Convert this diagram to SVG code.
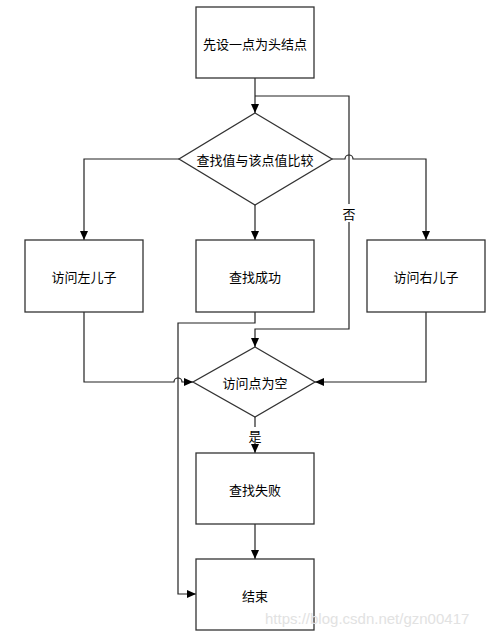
<svg xmlns="http://www.w3.org/2000/svg" width="490" height="636" viewBox="0 0 490 636">
<style>
.box{fill:#fff;stroke:#333;stroke-width:1.3}
.t{font-family:"Noto Sans CJK SC","Noto Sans",sans-serif;font-size:13px;fill:#000;text-anchor:middle;dominant-baseline:central}
.c{fill:none;stroke:#222;stroke-width:1.2}
.wm{font-family:"Liberation Sans",Arial,sans-serif;font-size:15px;fill:#e2e2e2}
</style>
<defs>
<marker id="a" markerWidth="10" markerHeight="8" refX="9" refY="4" orient="auto" markerUnits="userSpaceOnUse">
<path d="M0,0 L9,4 L0,8 Z" fill="#000"/>
</marker>
</defs>
<rect width="490" height="636" fill="#fff"/>
<g id="connectors">
<path class="c" d="M255,78 V113" marker-end="url(#a)"/>
<path class="c" d="M255,96 H349 V329 H255 V347" marker-end="url(#a)"/>
<path class="c" d="M179,159 H84 V240" marker-end="url(#a)"/>
<path class="c" d="M255,205 V240" marker-end="url(#a)"/>
<path class="c" d="M332,159 H345 A4,4 0 0 1 353,159 H426 V240" marker-end="url(#a)"/>
<path class="c" d="M84,312 V382 H174 A4,4 0 0 1 182,382 H193" marker-end="url(#a)"/>
<path class="c" d="M426,312 V382 H315" marker-end="url(#a)"/>
<path class="c" d="M255,312 V323 H178 V594 H196" marker-end="url(#a)"/>
<path class="c" d="M255,417 V453" marker-end="url(#a)"/>
<path class="c" d="M255,524 V559" marker-end="url(#a)"/>
<rect x="341" y="204" width="16" height="18" fill="#fff"/>
<text class="t" x="349" y="213">否</text>
<rect x="247" y="427" width="16" height="16" fill="#fff"/>
<text class="t" x="255" y="435">是</text>
</g>
<g id="start"><rect class="box" x="196" y="7" width="118" height="71"/><text class="t" x="255" y="43">先设一点为头结点</text></g>
<g id="compare"><path class="box" d="M255,113 L332,159 L255,205 L179,159 Z"/><text class="t" x="255" y="159">查找值与该点值比较</text></g>
<g id="left"><rect class="box" x="25" y="240" width="118" height="72"/><text class="t" x="84" y="276">访问左儿子</text></g>
<g id="found"><rect class="box" x="196" y="240" width="118" height="72"/><text class="t" x="255" y="276">查找成功</text></g>
<g id="right"><rect class="box" x="367" y="240" width="118" height="72"/><text class="t" x="426" y="276">访问右儿子</text></g>
<g id="empty"><path class="box" d="M255,347 L315,382 L255,417 L193,382 Z"/><text class="t" x="255" y="382">访问点为空</text></g>
<g id="fail"><rect class="box" x="196" y="453" width="118" height="71"/><text class="t" x="255" y="489">查找失败</text></g>
<g id="end"><rect class="box" x="196" y="559" width="118" height="71"/><text class="t" x="255" y="595">结束</text></g>
<text class="wm" x="265" y="624">https://blog.csdn.net/gzn00417</text>
</svg>
